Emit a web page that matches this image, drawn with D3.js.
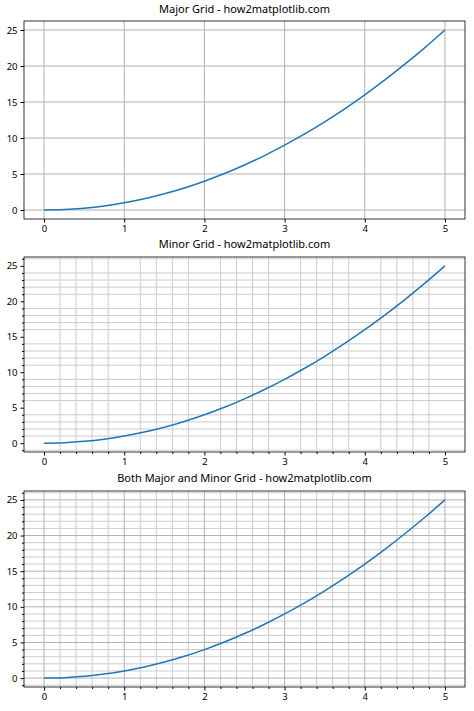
<!DOCTYPE html><html><head><meta charset="utf-8">
<script src="https://cdn.jsdelivr.net/npm/d3@7"></script>
<style>body{margin:0;background:#fff}text{font-family:"Noto Sans",sans-serif}</style></head><body>
<svg id="c" width="474" height="711"></svg>
<script>
const xVals=[0,0.25,0.5,0.75,1,1.25,1.5,1.75,2,2.25,2.5,2.75,3,3.25,3.5,3.75,4,4.25,4.5,4.75,5];
const yVals=[0,0.06,0.25,0.56,1,1.56,2.25,3.06,4,5.06,6.25,7.56,9,10.56,12.25,14.06,16,18.06,20.25,22.56,25];
const xTicks=[0,1,2,3,4,5];
const yTicks=[0,5,10,15,20,25];
const titles=["Major Grid - how2matplotlib.com","Minor Grid - how2matplotlib.com","Both Major and Minor Grid - how2matplotlib.com"];
const modes=["major","minor","both"];
const panels=[{top:21,bottom:219,ty:13},{top:257,bottom:452,ty:248},{top:491,bottom:687,ty:482}];
const L=24,R=465;
const svg=d3.select("#c");
const x=d3.scaleLinear().domain([-0.25,5.25]).range([L,R]);
const xMinor=d3.range(0,5.01,0.2).map(v=>+v.toFixed(1)).filter(v=>Math.abs(v-Math.round(v))>1e-6);
const yMinor=d3.range(-1,27,1).filter(v=>v%5!==0);
panels.forEach((p,i)=>{
  const y=d3.scaleLinear().domain([-1.25,26.25]).range([p.bottom,p.top]);
  const g=svg.append("g");
  const m=modes[i];
  if(m!=="major"){
    xMinor.forEach(v=>g.append("line").attr("x1",x(v)).attr("x2",x(v)).attr("y1",p.top).attr("y2",p.bottom).attr("stroke","#cccccc").attr("stroke-width",1));
    yMinor.filter(v=>v>-1.25&&v<26.25).forEach(v=>g.append("line").attr("y1",y(v)).attr("y2",y(v)).attr("x1",L).attr("x2",R).attr("stroke","#cccccc").attr("stroke-width",1));
  }
  if(m!=="minor"){
    xTicks.forEach(v=>g.append("line").attr("x1",x(v)).attr("x2",x(v)).attr("y1",p.top).attr("y2",p.bottom).attr("stroke","#b0b0b0").attr("stroke-width",1));
    yTicks.forEach(v=>g.append("line").attr("y1",y(v)).attr("y2",y(v)).attr("x1",L).attr("x2",R).attr("stroke","#b0b0b0").attr("stroke-width",1));
  }
  g.append("path").datum(xVals.map((v,k)=>[v,yVals[k]])).attr("fill","none").attr("stroke","#1f77b4").attr("stroke-width",1.5)
   .attr("d",d3.line().x(d=>x(d[0])).y(d=>y(d[1])).curve(d3.curveMonotoneX));
  const xa=d3.axisBottom(x).tickValues(xTicks).tickFormat(d3.format("d")).tickSize(3.5).tickPadding(3);
  const ya=d3.axisLeft(y).tickValues(yTicks).tickFormat(d3.format("d")).tickSize(3.5).tickPadding(3);
  const gx=g.append("g").attr("transform",`translate(0,${p.bottom})`).call(xa);
  const gy=g.append("g").attr("transform",`translate(${L},0)`).call(ya);
  [gx,gy].forEach(a=>{a.select(".domain").remove();a.selectAll("text").attr("font-size",9.5).attr("fill","#000");a.selectAll("line").attr("stroke","#000");});
  if(m!=="major"){
    g.append("g").attr("transform",`translate(0,${p.bottom})`).call(d3.axisBottom(x).tickValues(xMinor).tickFormat("").tickSize(2)).call(a=>a.select(".domain").remove());
    g.append("g").attr("transform",`translate(${L},0)`).call(d3.axisLeft(y).tickValues(yMinor).tickFormat("").tickSize(2)).call(a=>a.select(".domain").remove());
  }
  g.append("rect").attr("x",L).attr("y",p.top).attr("width",R-L).attr("height",p.bottom-p.top).attr("fill","none").attr("stroke","#000").attr("stroke-width",0.8);
  svg.append("text").attr("x",(L+R)/2).attr("y",p.ty).attr("text-anchor","middle").attr("font-size",11).attr("fill","#000").text(titles[i]);
});
</script></body></html>
